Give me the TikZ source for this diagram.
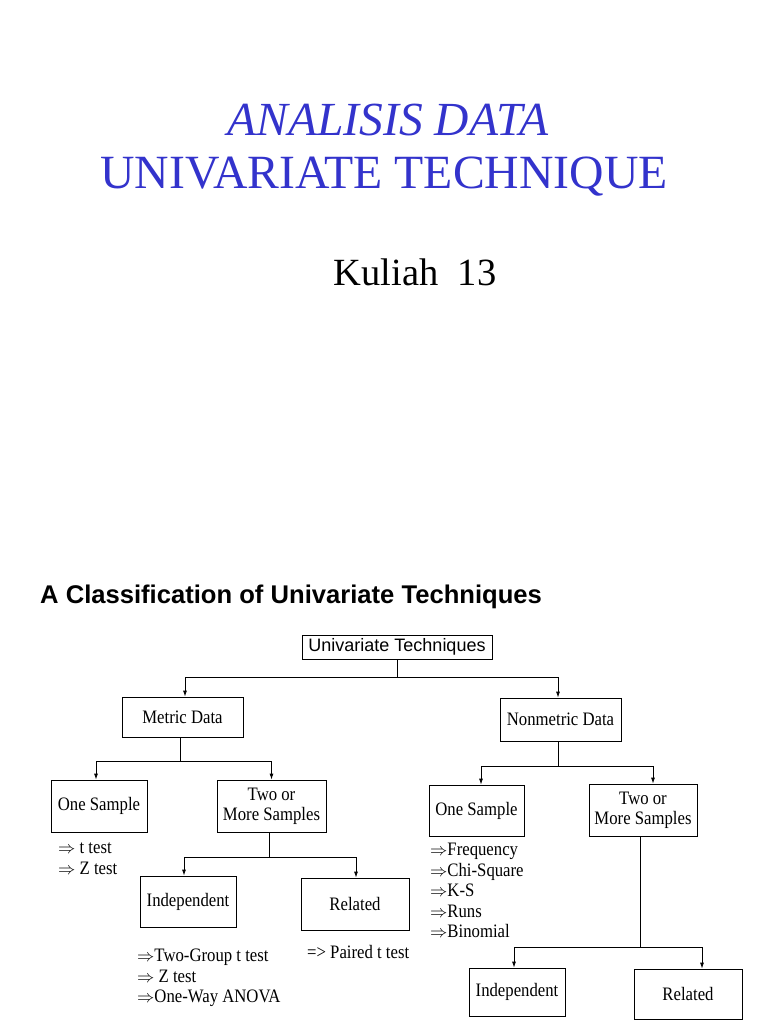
\documentclass[tikz,border=0pt]{standalone}
\usepackage{fontspec}
\setmainfont{Liberation Serif}
\newfontfamily\arial{Liberation Sans}
\newfontfamily\narrow[FakeStretch=0.88]{Liberation Serif}
\usetikzlibrary{arrows.meta}
\definecolor{tblue}{RGB}{51,51,204}
\begin{document}
\begin{tikzpicture}[x=1pt,y=-1pt,
  bx/.style={draw,line width=0.8pt,inner sep=0pt,font=\narrow\fontsize{19}{20}\selectfont,align=center},
  con/.style={line width=0.8pt},
  arr/.style={line width=0.8pt,-{Latex[length=6pt,width=4pt]}},
  lst/.style={anchor=north west,align=left,font=\narrow\fontsize{19}{20.5}\selectfont,inner sep=0pt}]
\useasboundingbox (0,0) rectangle (768,1024);
\node[text=tblue,font=\fontsize{47.5}{48}\selectfont\itshape] (t1) at (388,120) {ANALISIS DATA};
\node[text=tblue,font=\fontsize{47.7}{48}\selectfont] (t2) at (384,177) {UNIVARIATE TECHNIQUE};
\node[font=\fontsize{38.5}{39}\selectfont] (t3) at (415,272) {Kuliah\ \ 13};
\node[anchor=west,font=\arial\bfseries\fontsize{25.6}{26}\selectfont,inner sep=0pt] (cl) at (40,597) {A Classification of Univariate Techniques};

\node[bx,font=\arial\fontsize{18}{20}\selectfont,minimum width=190pt,minimum height=24pt] (ut) at (397,647) {Univariate Techniques};
\node[bx,minimum width=121pt,minimum height=40pt] (md) at (182.5,717) {Metric Data};
\node[bx,minimum width=121pt,minimum height=43pt] (nd) at (560.5,719.5) {Nonmetric Data};
\node[bx,minimum width=96pt,minimum height=52pt] (os1) at (99,806) {One Sample};
\node[bx,minimum width=109pt,minimum height=52pt] (tm1) at (271.5,806) {Two or\\More Samples};
\node[bx,minimum width=96pt,minimum height=51pt] (in1) at (188,901.5) {Independent};
\node[bx,minimum width=108pt,minimum height=52pt] (re1) at (355,904) {Related};
\node[bx,minimum width=95pt,minimum height=51pt] (os2) at (476.5,810.5) {One Sample};
\node[bx,minimum width=108pt,minimum height=52pt] (tm2) at (643,810) {Two or\\More Samples};
\node[bx,minimum width=96pt,minimum height=48pt] (in2) at (517,992) {Independent};
\node[bx,minimum width=108pt,minimum height=50pt] (re2) at (688,994) {Related};

\coordinate (j1) at (397,677);
\draw[con] (ut.south) -- (j1);
\draw[arr] (j1) -| (md.north -| 185,0);
\draw[arr] (j1) -| (nd.north -| 558,0);
\coordinate (j2) at (180,761);
\draw[con] (md.south -| j2) -- (j2);
\draw[arr] (j2) -| (os1.north -| 96,0);
\draw[arr] (j2) -| (tm1.north);
\coordinate (j3) at (558,766);
\draw[con] (nd.south -| j3) -- (j3);
\draw[arr] (j3) -| (os2.north -| 481,0);
\draw[arr] (j3) -| (tm2.north -| 653,0);
\coordinate (j4) at (269,857);
\draw[con] (tm1.south -| j4) -- (j4);
\draw[arr] (j4) -| (in1.north -| 184,0);
\draw[arr] (j4) -| (re1.north -| 356,0);
\coordinate (j5) at (640,947);
\draw[con] (tm2.south -| j5) -- (j5);
\draw[arr] (j5) -| (in2.north -| 514,0);
\draw[arr] (j5) -| (re2.north -| 702,0);

\node[lst] (l1) at (58,843) {$\Rightarrow$ t test\\$\Rightarrow$ Z test};
\node[lst] (l2) at (430,843) {$\Rightarrow$Frequency\\$\Rightarrow$Chi-Square\\$\Rightarrow$K-S\\$\Rightarrow$Runs\\$\Rightarrow$Binomial};
\node[lst] (l3) at (137,949) {$\Rightarrow$Two-Group t test\\$\Rightarrow$ Z test\\$\Rightarrow$One-Way ANOVA};
\node[lst] (l4) at (307,945) {=> Paired t test};
\end{tikzpicture}
\end{document}
